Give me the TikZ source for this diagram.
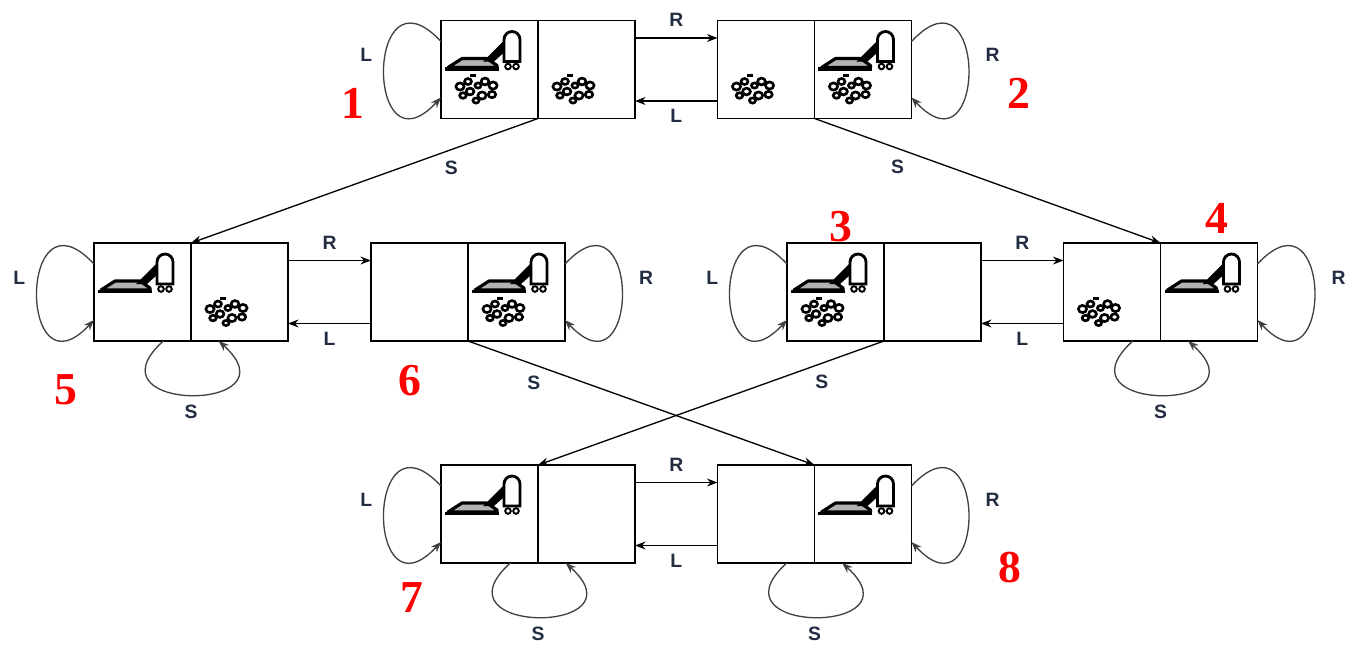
\documentclass[tikz,border=0pt]{standalone}
\usepackage{fontspec}
\setmainfont{Liberation Serif}
\setsansfont{Liberation Sans}
\usepackage{tikz}
\usetikzlibrary{calc}
\usetikzlibrary{arrows.meta}
\usetikzlibrary{positioning}
\definecolor{labcol}{RGB}{35,45,66}
\tikzset{
  cell/.style={draw, line width=1.1pt, minimum width=1.94cm, minimum height=1.96cm, inner sep=0, outer sep=0},
  lab/.style={text=labcol, font=\sffamily\bfseries\fontsize{11}{12}\selectfont, inner sep=2pt},
  num/.style={text=red, font=\bfseries\fontsize{26}{26}\selectfont, inner sep=0},
  arr/.style={-{Stealth[length=6pt, width=4.5pt]}, line width=.75pt},
  loopline/.style={-{Stealth[length=6pt, width=4.5pt]}, line width=.75pt, black!75},
  lloop/.style={out=133, in=227, looseness=5.1},
  rloop/.style={out=47, in=-47, looseness=5.1},
  sloop/.style={out=222, in=318, looseness=5},
  vacuum/.pic={
    \draw[line width=1.8pt, fill=black!30, line join=round] (7,-47) -- (21,-38) -- (46,-38) -- (56,-45) -- (56,-47) -- cycle;
    \fill (4,-46.5) rectangle (58,-50);
    \fill (42,-41) -- (63,-20) -- (63,-32) -- (53,-41) -- cycle;
    \draw[line width=1.6pt, fill=white] (63,-41) -- (63,-19) arc[start angle=180, end angle=0, radius=8] -- (79,-41) -- cycle;
    \draw[line width=1.1pt, fill=white] (67,-46) circle (2.8) (75,-46) circle (2.8);
  },
  dirt/.pic={
    \fill (29,-53.5) rectangle (35,-56.5);
    \foreach \dx/\dy/\r in {19/66/3.6, 27/61/3, 29/71/3.4, 37/65/2.6, 44/61/3.4, 52/65/3.6, 41/75/3.6, 51/74/3.2, 35/80/2.6, 22/75/2.8}
      \draw[line width=1.5pt] (\dx,-\dy) ellipse [x radius=\r+.5, y radius=\r];
  }
}
\begin{document}
\begin{tikzpicture}[x=0.02cm, y=0.02cm]
\useasboundingbox (0,0) rectangle (1360,-656);
% the eight states, square A on the left, square B on the right
\foreach \n/\x/\y in {1/489.5/69.5, 2/766/69.5, 5/142.5/292, 6/419.5/292, 3/835.5/292, 4/1112/292, 7/489.5/514, 8/766/514} {
  \node[cell] (A\n) at (\x,-\y) {};
  \node[cell, right=0pt of A\n] (B\n) {};
}
\pic at (A1.north west) {vacuum}; \pic at (A1.north west) {dirt}; \pic at (B1.north west) {dirt};
\pic at (A2.north west) {dirt}; \pic at (B2.north west) {vacuum}; \pic at (B2.north west) {dirt};
\pic at (A5.north west) {vacuum}; \pic at (B5.north west) {dirt};
\pic at (B6.north west) {vacuum}; \pic at (B6.north west) {dirt};
\pic at (A3.north west) {vacuum}; \pic at (A3.north west) {dirt};
\pic at (A4.north west) {dirt}; \pic at (B4.north west) {vacuum};
\pic at (A7.north west) {vacuum};
\pic at (B8.north west) {vacuum};
% moves between neighbouring states
\foreach \p/\q in {1/2, 5/6, 3/4, 7/8} {
  \draw[arr] (B\p.33) -- (B\p.33 -| A\q.west) node[lab, midway, above=4pt] {R};
  \draw[arr] (A\q.-147) -- (A\q.-147 -| B\p.east) node[lab, midway, below=2.5pt] {L};
}
\draw[arr] (A1.south east) -- (A5.north east) node[lab, pos=.25, below=4pt] {S};
\draw[arr] (A2.south east) -- (A4.north east) node[lab, pos=.24, below=4pt] {S};
\draw[arr] (A6.south east) -- (A8.north east) node[lab, pos=.19, below=4pt] {S};
\draw[arr] (A3.south east) -- (A7.north east) node[lab, pos=.18, below=4pt] {S};
% self loops
\foreach \n in {1,5,3,7}
  \draw[loopline] (A\n.150) to[lloop] node[lab, pos=.43, left=5pt] {L} (A\n.210);
\foreach \n in {2,6,4,8}
  \draw[loopline] (B\n.30) to[rloop] node[lab, pos=.43, right=8pt] {R} (B\n.-30);
\foreach \n in {5,4,7,8}
  \draw[loopline] (A\n.-67) to[sloop] node[lab, below=3pt] {S} (B\n.-113);
% state numbers
\node[num] (n1) at (353,-103) {1};
\node[num] (n2) at (1019,-93) {2};
\node[num] (n3) at (841,-227) {3};
\node[num] (n4) at (1217,-218) {4};
\node[num] (n5) at (66,-390) {5};
\node[num] (n6) at (410,-381) {6};
\node[num] (n7) at (412,-598) {7};
\node[num] (n8) at (1010,-568) {8};
\end{tikzpicture}
\end{document}
